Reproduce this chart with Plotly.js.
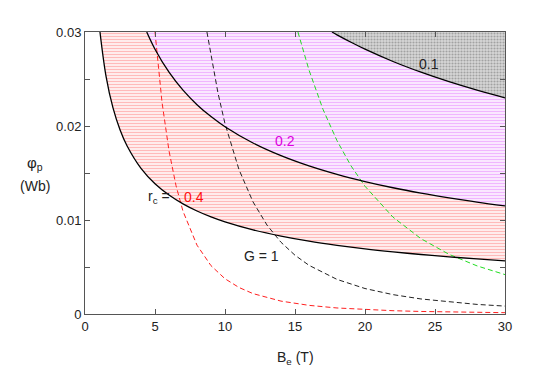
<!DOCTYPE html>
<html><head><meta charset="utf-8">
<script src="https://cdn.plot.ly/plotly-3.0.1.min.js"></script>
<style>html,body{margin:0;padding:0;background:#fff}#plot{width:550px;height:370px}</style>
</head><body><div id="plot"></div>
<script>
// r_c = 0.4 boundary (solid black)
var B_r04 = [1.07,1.5,2,2.5,3,4,5,6,7,8,9,10,12,14,16,18,20,22,24,26,28,30];
var phi_r04 = [0.0300,0.02531,0.02192,0.01961,0.01790,0.01550,0.01386,0.01266,0.01172,0.01096,0.01033,0.00980,0.00895,0.00829,0.00775,0.00731,0.00693,0.00661,0.00633,0.00608,0.00586,0.00566];
// r_c = 0.2 boundary
var B_r02 = [4.41,5,6,7,8,9,10,12,14,16,18,20,22,24,26,28,30];
var phi_r02 = [0.0300,0.02817,0.02572,0.02381,0.02227,0.0210,0.01992,0.01819,0.01684,0.01575,0.01485,0.01409,0.01343,0.01286,0.01236,0.01191,0.01150];
// r_c = 0.1 boundary
var B_r01 = [17.64,18,19,20,22,24,26,28,30];
var phi_r01 = [0.0300,0.02970,0.02891,0.02817,0.02686,0.02572,0.02471,0.02381,0.02300];
// G = 1 dashed curves
var B_gRed = [5,5.5,6,6.5,7,8,9,10,11,12,14,16,18,20,22,24,26,28,30];
var phi_gRed = [0.0300,0.02254,0.01736,0.01366,0.01093,0.00732,0.00514,0.00375,0.00282,0.00217,0.00137,0.00092,0.00064,0.00047,0.00035,0.00027,0.00021,0.00017,0.00014];
var B_gBlack = [8.71,9,9.5,10,11,12,13,14,15,16,18,20,22,24,26,28,30];
var phi_gBlack = [0.0300,0.02748,0.02350,0.02025,0.01536,0.01193,0.00946,0.00763,0.00625,0.00518,0.00368,0.00271,0.00206,0.00160,0.00127,0.00102,0.00084];
var B_gGreen = [15.21,16,17,18,19,20,22,24,26,28,30];
var phi_gGreen = [0.0300,0.02595,0.02177,0.01844,0.01576,0.01359,0.01030,0.00801,0.00635,0.00512,0.00419];

var xTicks = [0,5,10,15,20,25,30];
var yTicks = [0,0.005,0.01,0.015,0.02,0.025,0.03];
var yTickText = ['0','','0.01','','0.02','','0.03'];
var PHI_MAX = 0.03, B_MAX = 30;

function rev(a){return a.slice().reverse();}
var redX = B_r04.concat(rev(B_r02));
var redY = phi_r04.concat(rev(phi_r02));
var vioX = B_r02.concat([B_MAX]).concat(rev(B_r01));
var vioY = phi_r02.concat([phi_r01[phi_r01.length-1]]).concat(rev(phi_r01));
var grayX = B_r01.concat([B_MAX]);
var grayY = phi_r01.concat([PHI_MAX]);

var traces = [
 {x:redX,y:redY,mode:'none',fill:'toself',fillcolor:'#ffdcdc',
  fillpattern:{shape:'-',fgcolor:'#ffbaba',bgcolor:'#fff2f2',size:3,solidity:0.4},hoverinfo:'skip'},
 {x:vioX,y:vioY,mode:'none',fill:'toself',fillcolor:'#f6daff',
  fillpattern:{shape:'-',fgcolor:'#f0b6ff',bgcolor:'#fcedff',size:3,solidity:0.4},hoverinfo:'skip'},
 {x:grayX,y:grayY,mode:'none',fill:'toself',fillcolor:'#c8c8c8',
  fillpattern:{shape:'.',fgcolor:'#a2a2a2',bgcolor:'#d8d8d8',size:3,solidity:0.4},hoverinfo:'skip'},
 {x:B_gRed,y:phi_gRed,mode:'lines',line:{color:'#ff2020',width:1,dash:'5px,3px'}},
 {x:B_gBlack,y:phi_gBlack,mode:'lines',line:{color:'#222',width:1,dash:'5px,3px'}},
 {x:B_gGreen,y:phi_gGreen,mode:'lines',line:{color:'#22dd22',width:1,dash:'5px,3px'}},
 {x:B_r04,y:phi_r04,mode:'lines',line:{color:'#000',width:1.3,shape:'spline'}},
 {x:B_r02,y:phi_r02,mode:'lines',line:{color:'#000',width:1.3,shape:'spline'}},
 {x:B_r01,y:phi_r01,mode:'lines',line:{color:'#000',width:1.3,shape:'spline'}}
];

var fnt = {family:'Liberation Sans, Arial, sans-serif',size:13,color:'#222'};
var layout = {
 width:550,height:370,showlegend:false,
 paper_bgcolor:'#fff',plot_bgcolor:'#fff',
 margin:{l:85,r:45,t:32,b:56},
 font:fnt,
 xaxis:{range:[0,30],tickvals:xTicks,ticks:'inside',ticklen:5,tickcolor:'#555',
   showline:true,linecolor:'#555',linewidth:1,mirror:'ticks',showgrid:false,zeroline:false,
   tickfont:{family:'Liberation Sans, Arial, sans-serif',size:13,color:'#222'}},
 yaxis:{range:[0,0.03],tickvals:yTicks,ticktext:yTickText,ticks:'inside',ticklen:5,tickcolor:'#555',
   showline:true,linecolor:'#555',linewidth:1,mirror:'ticks',showgrid:false,zeroline:false,
   tickfont:{family:'Liberation Sans, Arial, sans-serif',size:13,color:'#222'}},
 annotations:[
  {xref:'paper',yref:'paper',x:0.5,y:-0.155,yanchor:'middle',xanchor:'center',showarrow:false,
   text:'B<sub>e</sub> (T)',font:{size:14,color:'#222'}},
  {xref:'paper',yref:'paper',x:-0.12,y:0.535,xanchor:'center',yanchor:'middle',showarrow:false,
   text:'φ<sub>p</sub>',font:{size:15,color:'#222'}},
  {xref:'paper',yref:'paper',x:-0.12,y:0.455,xanchor:'center',yanchor:'middle',showarrow:false,
   text:'(Wb)',font:{size:14,color:'#222'}},
  {x:24.6,y:0.0266,showarrow:false,text:'0.1',font:{size:14,color:'#222'}},
  {x:14.3,y:0.0184,showarrow:false,text:'0.2',font:{size:14,color:'#dd00dd'}},
  {x:5.3,y:0.0125,showarrow:false,text:'r<sub>c</sub> =',font:{size:14,color:'#222'}},
  {x:7.8,y:0.0125,showarrow:false,text:'0.4',font:{size:14,color:'#ff1010'}},
  {x:12.6,y:0.0062,showarrow:false,text:'G = 1',font:{size:14,color:'#222'}}
 ]
};
Plotly.newPlot('plot',traces,layout,{staticPlot:true,displayModeBar:false});
</script></body></html>
